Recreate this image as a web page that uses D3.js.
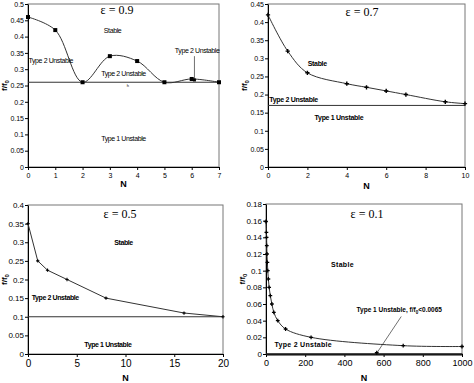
<!DOCTYPE html>
<html lang="en">
<head>
<meta charset="UTF-8">
<title>Stability charts</title>
<style>
  body { margin: 0; background: #fff; }
  svg { display: block; font-family: 'Liberation Sans', Arial, sans-serif; }
  .frame { fill: none; stroke: #777; stroke-width: 1; }
  .axis path, .axis line { stroke: #000; }
  .lbl { fill: #000; }
</style>
</head>
<body>
<svg id="chart" width="474" height="383"></svg>
<script src="https://d3js.org/d3.v7.min.js"></script>
<script>
// eps = 0.9
const n09 = [0, 1, 2, 3, 4, 5, 6, 7];
const f09 = [0.46, 0.42, 0.26, 0.34, 0.325, 0.26, 0.27, 0.26];
const bound09 = 0.26;
// eps = 0.7
const n07 = [0, 1, 2, 4, 5, 6, 7, 9, 10];
const f07 = [0.42, 0.32, 0.26, 0.23, 0.22, 0.21, 0.20, 0.18, 0.175];
const bound07 = 0.17;
// eps = 0.5
const n05 = [0, 1, 2, 4, 8, 16, 20];
const f05 = [0.35, 0.25, 0.225, 0.2, 0.15, 0.11, 0.1];
const bound05 = 0.1;
// eps = 0.1
const n01 = [0, 2, 3, 4, 5, 7, 9, 12, 16, 22, 30, 40, 60, 100, 230, 700, 1000];
const f01 = [0.159, 0.146, 0.14, 0.13, 0.12, 0.11, 0.1, 0.09, 0.08, 0.07, 0.06, 0.05, 0.04, 0.03, 0.02, 0.01, 0.009];
const n01Limit = 565, f01Limit = 0.0015;

const yTicks09 = d3.range(0, 0.501, 0.05);
const yTicks07 = d3.range(0, 0.451, 0.05);
const yTicks05 = d3.range(0, 0.401, 0.05);
const yTicks01 = d3.range(0, 0.181, 0.02);

const svg = d3.select("#chart");
const fmt = d => d3.format(".2~f")(d);
const fmtN = d3.format("d");

function panel(o) {
  const x = d3.scaleLinear().domain(o.xd).range([o.x0, o.x1]);
  const y = d3.scaleLinear().domain(o.yd).range([o.y1, o.y0]);
  const g = svg.append("g");

  g.append("rect").attr("class", "frame")
    .attr("x", o.x0).attr("y", o.y0)
    .attr("width", o.x1 - o.x0).attr("height", o.y1 - o.y0);

  const ya = g.append("g").attr("class", "axis")
    .attr("transform", `translate(${o.x0},0)`)
    .call(d3.axisLeft(y).tickValues(o.yt).tickFormat(fmt).tickSize(3).tickSizeOuter(0));
  ya.selectAll("text").style("font-size", o.yfs + "px").attr("x", -4);

  const xa = g.append("g").attr("class", "axis")
    .attr("transform", `translate(0,${o.y1})`)
    .call(d3.axisBottom(x).tickValues(o.xt).tickFormat(fmtN).tickSize(3).tickSizeOuter(0));
  xa.selectAll("text").style("font-size", o.xfs + "px").attr("y", 6);
  xa.select("path").attr("stroke-width", o.bw || 1);

  g.append("text").attr("class", "lbl")
    .attr("x", (o.x0 + o.x1) / 2).attr("y", o.y1 + (o.ny || 20))
    .attr("text-anchor", "middle").style("font-size", "9px").style("font-weight", "bold").text("N");

  const yl = g.append("text").attr("class", "lbl")
    .attr("transform", `translate(${o.x0 - 21},${(o.y0 + o.y1) / 2}) rotate(-90)`)
    .attr("text-anchor", "middle").style("font-size", "8px").style("font-weight", "bold");
  yl.append("tspan").text("f/f");
  yl.append("tspan").attr("dy", 2).style("font-size", "6px").text("0");

  // boundary between type 1 and type 2
  g.append("line")
    .attr("x1", o.x0).attr("x2", o.x1)
    .attr("y1", y(o.bound)).attr("y2", y(o.bound))
    .attr("stroke", "#333").attr("stroke-width", 1);

  const pts = o.n.map((d, i) => [d, o.f[i]]);
  const line = d3.line().x(d => x(d[0])).y(d => y(d[1])).curve(o.curve);
  g.append("path").attr("d", line(pts))
    .attr("fill", "none").attr("stroke", "#333").attr("stroke-width", 1);

  g.selectAll(".m").data(pts).enter().append(o.marker === "sq" ? "rect" : "path")
    .each(function (d) {
      const s = d3.select(this);
      if (o.marker === "sq") {
        s.attr("x", x(d[0]) - 2).attr("y", y(d[1]) - 2).attr("width", 4).attr("height", 4);
      } else {
        s.attr("d", d3.symbol(d3.symbolCross, o.msize || 10)()).attr("transform", `translate(${x(d[0])},${y(d[1])})`);
      }
    })
    .attr("fill", "#000");

  g.append("text").attr("x", o.epsX).attr("y", o.epsY)
    .attr("text-anchor", "middle")
    .style("font-family", "'Liberation Serif', 'Times New Roman', serif")
    .style("font-size", "12px").text(o.eps);

  o.labels.forEach(l => {
    g.append("text").attr("class", "lbl").attr("x", x(l[1])).attr("y", y(l[2]))
      .attr("text-anchor", l[4] || "middle")
      .style("font-size", (l[3] || o.lfs) + "px").style("font-weight", o.lw)
      .style("letter-spacing", o.ls || "0px")
      .text(l[0]);
  });
  return { g, x, y };
}

// eps = 0.9
const p1 = panel({
  x0: 28, x1: 219, y0: 4, y1: 167, xd: [0, 7], yd: [0, 0.5],
  xt: d3.range(0, 8), yt: yTicks09, xfs: 7, yfs: 7, ny: 20,
  n: n09, f: f09, bound: bound09, curve: d3.curveCatmullRom.alpha(0.5), marker: "sq",
  eps: "ε = 0.9", epsX: 117, epsY: 14, lfs: 7, lw: "normal", ls: "-0.4px",
  labels: [["Stable", 3.1, 0.41], ["Type 2 Unstable", 0.02, 0.32, 7, "start"], ["Type 2 Unstable", 3.5, 0.28],
           ["Type 2 Unstable", 6.2, 0.35], ["Type 1 Unstable", 3.5, 0.08], ["h", 3.65, 0.245, 4]]
});
p1.g.append("line").attr("x1", p1.x(6.1)).attr("y1", p1.y(0.34))
  .attr("x2", p1.x(6.1)).attr("y2", p1.y(0.268)).attr("stroke", "#333").attr("stroke-width", 0.7);
p1.g.append("rect").attr("x", p1.x(6.1) - 1.5).attr("y", p1.y(0.267) - 1.5)
  .attr("width", 3).attr("height", 3).attr("fill", "#000");

// eps = 0.7
panel({
  x0: 268, x1: 465, y0: 4, y1: 167, xd: [0, 10], yd: [0, 0.45],
  xt: d3.range(0, 11, 2), yt: yTicks07, xfs: 7, yfs: 7, ny: 22,
  n: n07, f: f07, bound: bound07, curve: d3.curveCatmullRom.alpha(0.5), marker: "cross",
  eps: "ε = 0.7", epsX: 362, epsY: 16, lfs: 7, lw: "bold", ls: "-0.3px",
  labels: [["Stable", 2.5, 0.28], ["Type 2 Unstable", 1.3, 0.18], ["Type 1 Unstable", 3.6, 0.13]]
});

// eps = 0.5
panel({
  x0: 28, x1: 223, y0: 205, y1: 354, xd: [0, 20], yd: [0, 0.4],
  xt: d3.range(0, 21, 5), yt: yTicks05, xfs: 10, yfs: 8, ny: 27,
  n: n05, f: f05, bound: bound05, curve: d3.curveLinear, marker: "cross", msize: 6,
  eps: "ε = 0.5", epsX: 120, epsY: 218, lfs: 7, lw: "bold", ls: "-0.4px",
  labels: [["Stable", 9.8, 0.293], ["Type 2 Unstable", 2.8, 0.144], ["Type 1 Unstable", 8.2, 0.02]]
});

// eps = 0.1
const p4 = panel({
  x0: 266, x1: 462, y0: 204, y1: 354, xd: [0, 1000], yd: [0, 0.18],
  xt: d3.range(0, 1001, 200), yt: yTicks01, xfs: 9, yfs: 8, bw: 2, ny: 27,
  n: n01, f: f01, bound: 0, curve: d3.curveCatmullRom.alpha(0.5), marker: "cross", msize: 8,
  eps: "ε = 0.1", epsX: 367, epsY: 218, lfs: 7, lw: "bold", ls: "0.3px",
  labels: [["Stable", 390, 0.105], ["Type 2 Unstable", 190, 0.008]]
});
const t4 = p4.g.append("text").attr("class", "lbl").attr("x", p4.x(680)).attr("y", p4.y(0.05))
  .attr("text-anchor", "middle").style("font-size", "6.5px").style("font-weight", "bold");
t4.append("tspan").text("Type 1 Unstable, f/f");
t4.append("tspan").attr("dy", 1.5).style("font-size", "4.5px").text("0");
t4.append("tspan").attr("dy", -1.5).text("<0.0065");
p4.g.append("line").attr("x1", p4.x(690)).attr("y1", p4.y(0.045))
  .attr("x2", p4.x(568)).attr("y2", p4.y(0.002)).attr("stroke", "#333").attr("stroke-width", 0.7);
p4.g.append("path").attr("d", d3.symbol(d3.symbolCross, 8)())
  .attr("transform", `translate(${p4.x(n01Limit)},${p4.y(f01Limit)})`).attr("fill", "#000");
</script>
</body>
</html>
